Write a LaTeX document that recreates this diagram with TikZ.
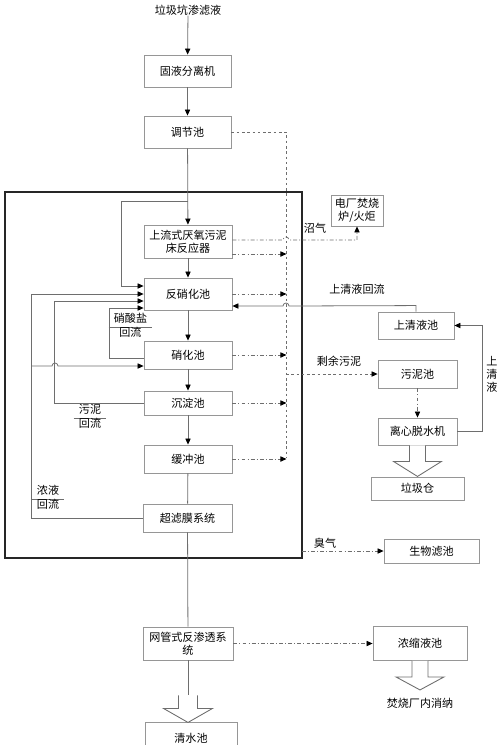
\documentclass[tikz,border=0pt]{standalone}
\usepackage{fontspec}
\setmainfont{Noto Sans CJK SC}
\usepackage{xcolor,colortbl}
\usepackage{tikz}
\usetikzlibrary{positioning}
\usetikzlibrary{arrows.meta,calc}
\definecolor{edge}{RGB}{110,110,110}
\definecolor{frame}{RGB}{150,150,150}
\arrayrulecolor{edge}

\begin{document}
\begin{tikzpicture}[x=0.02cm,y=-0.02cm,
  font=\fontsize{6.3}{7.4}\selectfont,
  >={Triangle[length=3.4pt,width=3pt,color=black]},
  box/.style={draw=frame,line width=0.5pt,rectangle,inner sep=1pt,align=center},
  flow/.style={draw=edge,line width=0.45pt},
  dots/.style={flow,dash pattern=on 1.5pt off 1.5pt},
  dashdot/.style={flow,dash pattern=on 2.2pt off 1.2pt on 0.6pt off 1.2pt},
  hollow/.style={draw=edge,line width=0.5pt,fill=white},
  lbl/.style={inner sep=0pt}]
\useasboundingbox (0,0) rectangle (500,745);

%main line
\node (src) at (188,10) [lbl] {垃圾坑渗滤液};
\node (gy) at (187.5,71) [box,minimum width=1.74cm,minimum height=0.64cm] {固液分离机};
\node (tj) at (187.5,132) [box,minimum width=1.74cm,minimum height=0.64cm] {调节池};
\draw [->,flow] (src) -- (gy);
\draw [->,flow] (gy) -- (tj);

%biological treatment block
\draw [line width=0.8pt,black!85] (5,192) rectangle (302,558);
\node (uasb) at (188,241.5) [box,minimum width=1.76cm,minimum height=0.66cm] {上流式厌氧污泥\\床反应器};
\node (fx) at (188,294) [box,minimum width=1.76cm,minimum height=0.64cm] {反硝化池};
\node (xh) at (188,355) [box,minimum width=1.76cm,minimum height=0.56cm] {硝化池};
\node (cd) at (188,403) [box,minimum width=1.76cm,minimum height=0.48cm] {沉淀池};
\node (hc) at (188,459) [box,minimum width=1.76cm,minimum height=0.56cm] {缓冲池};
\node (uf) at (187.5,518) [box,minimum width=1.78cm,minimum height=0.56cm] {超滤膜系统};
\draw [->,flow] (tj) -- (uasb);
\draw [->,flow] (uasb) -- (fx);
\draw [->,flow] (fx) -- (xh);
\draw [->,flow] (xh) -- (cd);
\draw [->,flow] (cd) -- (hc);
\draw [flow] (hc) -- (uf);

%returns into denitrification
\coordinate (split) at (188,201);
\draw [->,flow] (split) -- ++(-67,0) |- ($(fx.west)+(0,-8)$);
\draw [->,flow] (uf.west) -- ++(-111,0) |- (fx.west);
\draw [->,flow] (cd.west) -- ++(-89,0) |- ($(fx.west)+(0,7)$);
\draw [->,flow] ($(xh.west)+(0,3)$) -- ++(-34,0) |- ($(fx.west)+(0,14)$);
\coordinate (split2) at (32,366);
\draw [->,flow] (split2) -- (52,366) arc[start angle=180,end angle=0,radius=0.06cm] -- ($(xh.west)+(0,11)$);
\node (lnit) at (130.5,327) [lbl] {\begin{tabular}{@{\hspace{3pt}}c@{\hspace{3pt}}}硝酸盐\\\hline 回流\end{tabular}};
\node (lsl) at (90,418) [lbl] {\begin{tabular}{@{\hspace{3pt}}c@{\hspace{3pt}}}污泥\\\hline 回流\end{tabular}};
\node (lcon) at (48,499) [lbl] {\begin{tabular}{@{\hspace{3pt}}c@{\hspace{3pt}}}浓液\\\hline 回流\end{tabular}};

%sludge collector
\coordinate (bustop) at (286,132);
\coordinate (busend) at (286,458);
\draw [dots] (tj.east) -- (bustop) -- (busend);
\draw [->,dashdot] ($(uasb.east)+(0,12.5)$) -- ++(54,0);
\draw [->,dashdot] (fx.east) -- ++(54,0);
\draw [->,dashdot] (xh.east) -- ++(54,0);
\draw [->,dashdot] (cd.east) -- ++(54,0);
\draw [->,dashdot] (hc.east) -- ++(54,0);

%biogas
\node (dc) at (357,210.5) [box,minimum width=1.04cm,minimum height=0.62cm] {电厂焚烧\\炉/火炬};
\draw [->,dashdot] ($(uasb.east)+(0,-1.5)$) -- (283,240) arc[start angle=180,end angle=0,radius=0.06cm] -| (dc.south);
\node (lgas) at (315,228) [lbl] {沼气};

%supernatant and sludge line
\node (sq) at (416,325.5) [box,minimum width=1.52cm,minimum height=0.54cm] {上清液池};
\node (wn) at (417.5,374) [box,minimum width=1.58cm,minimum height=0.56cm] {污泥池};
\node (lx) at (417.5,431.5) [box,minimum width=1.58cm,minimum height=0.54cm] {离心脱水机};
\node (lj) at (417.5,488.5) [box,minimum width=1.86cm,minimum height=0.46cm] {垃圾仓};
\draw [->,flow] (sq.north) -- ++(0,-6) -- (289,306) arc[start angle=0,end angle=180,radius=0.06cm] -- ($(fx.east)+(0,12)$);
\node (lsup) at (357,289) [lbl] {上清液回流};
\coordinate (sludge) at (286,374);
\draw [->,dots] (sludge) -- (wn.west);
\node (lrest) at (339,361) [lbl] {剩余污泥};
\draw [->,dashdot] (wn) -- (lx);
\draw [hollow] ($(lx.south)+(-8,0)$) -- ++(0,16) -- ++(-16,0) -- ++(24,15) -- ++(24,-15) -- ++(-16,0) -- ++(0,-16);
\draw [->,flow] (lx.east) -- ++(25,0) |- (sq.east);
\node (lret) at (492,374) [lbl,align=center] {上\\清\\液};

%odour
\node (sw) at (431.5,551) [box,minimum width=1.9cm,minimum height=0.48cm] {生物滤池};
\coordinate (odour) at (302,551);
\draw [->,dashdot] (odour) -- (sw.west);
\node (lodo) at (325,543) [lbl] {臭气};

%reverse osmosis
\node (ro) at (188,643.5) [box,minimum width=1.8cm,minimum height=0.66cm] {网管式反渗透系\\统};
\node (ns) at (420,643.5) [box,minimum width=1.88cm,minimum height=0.68cm] {浓缩液池};
\node (qs) at (191,738) [box,minimum width=1.84cm,minimum height=0.64cm] {清水池};
\node (burn) at (420,703) [lbl] {焚烧厂内消纳};
\draw [flow] (uf) -- (ro);
\draw [->,dashdot] (ro) -- (ns);
\draw [flow] (ro.south) -- ++(0,35);
\draw [hollow] ($(ro.south)+(-9.5,35)$) -- ++(0,13) -- ++(-15,0) -- ++(24.5,14) -- ++(24.5,-14) -- ++(-15,0) -- ++(0,-13);
\draw [hollow] ($(ns.south)+(-8,0)$) -- ++(0,16) -- ++(-16,0) -- ++(24,13) -- ++(24,-13) -- ++(-16,0) -- ++(0,-16);

\end{tikzpicture}
\end{document}
